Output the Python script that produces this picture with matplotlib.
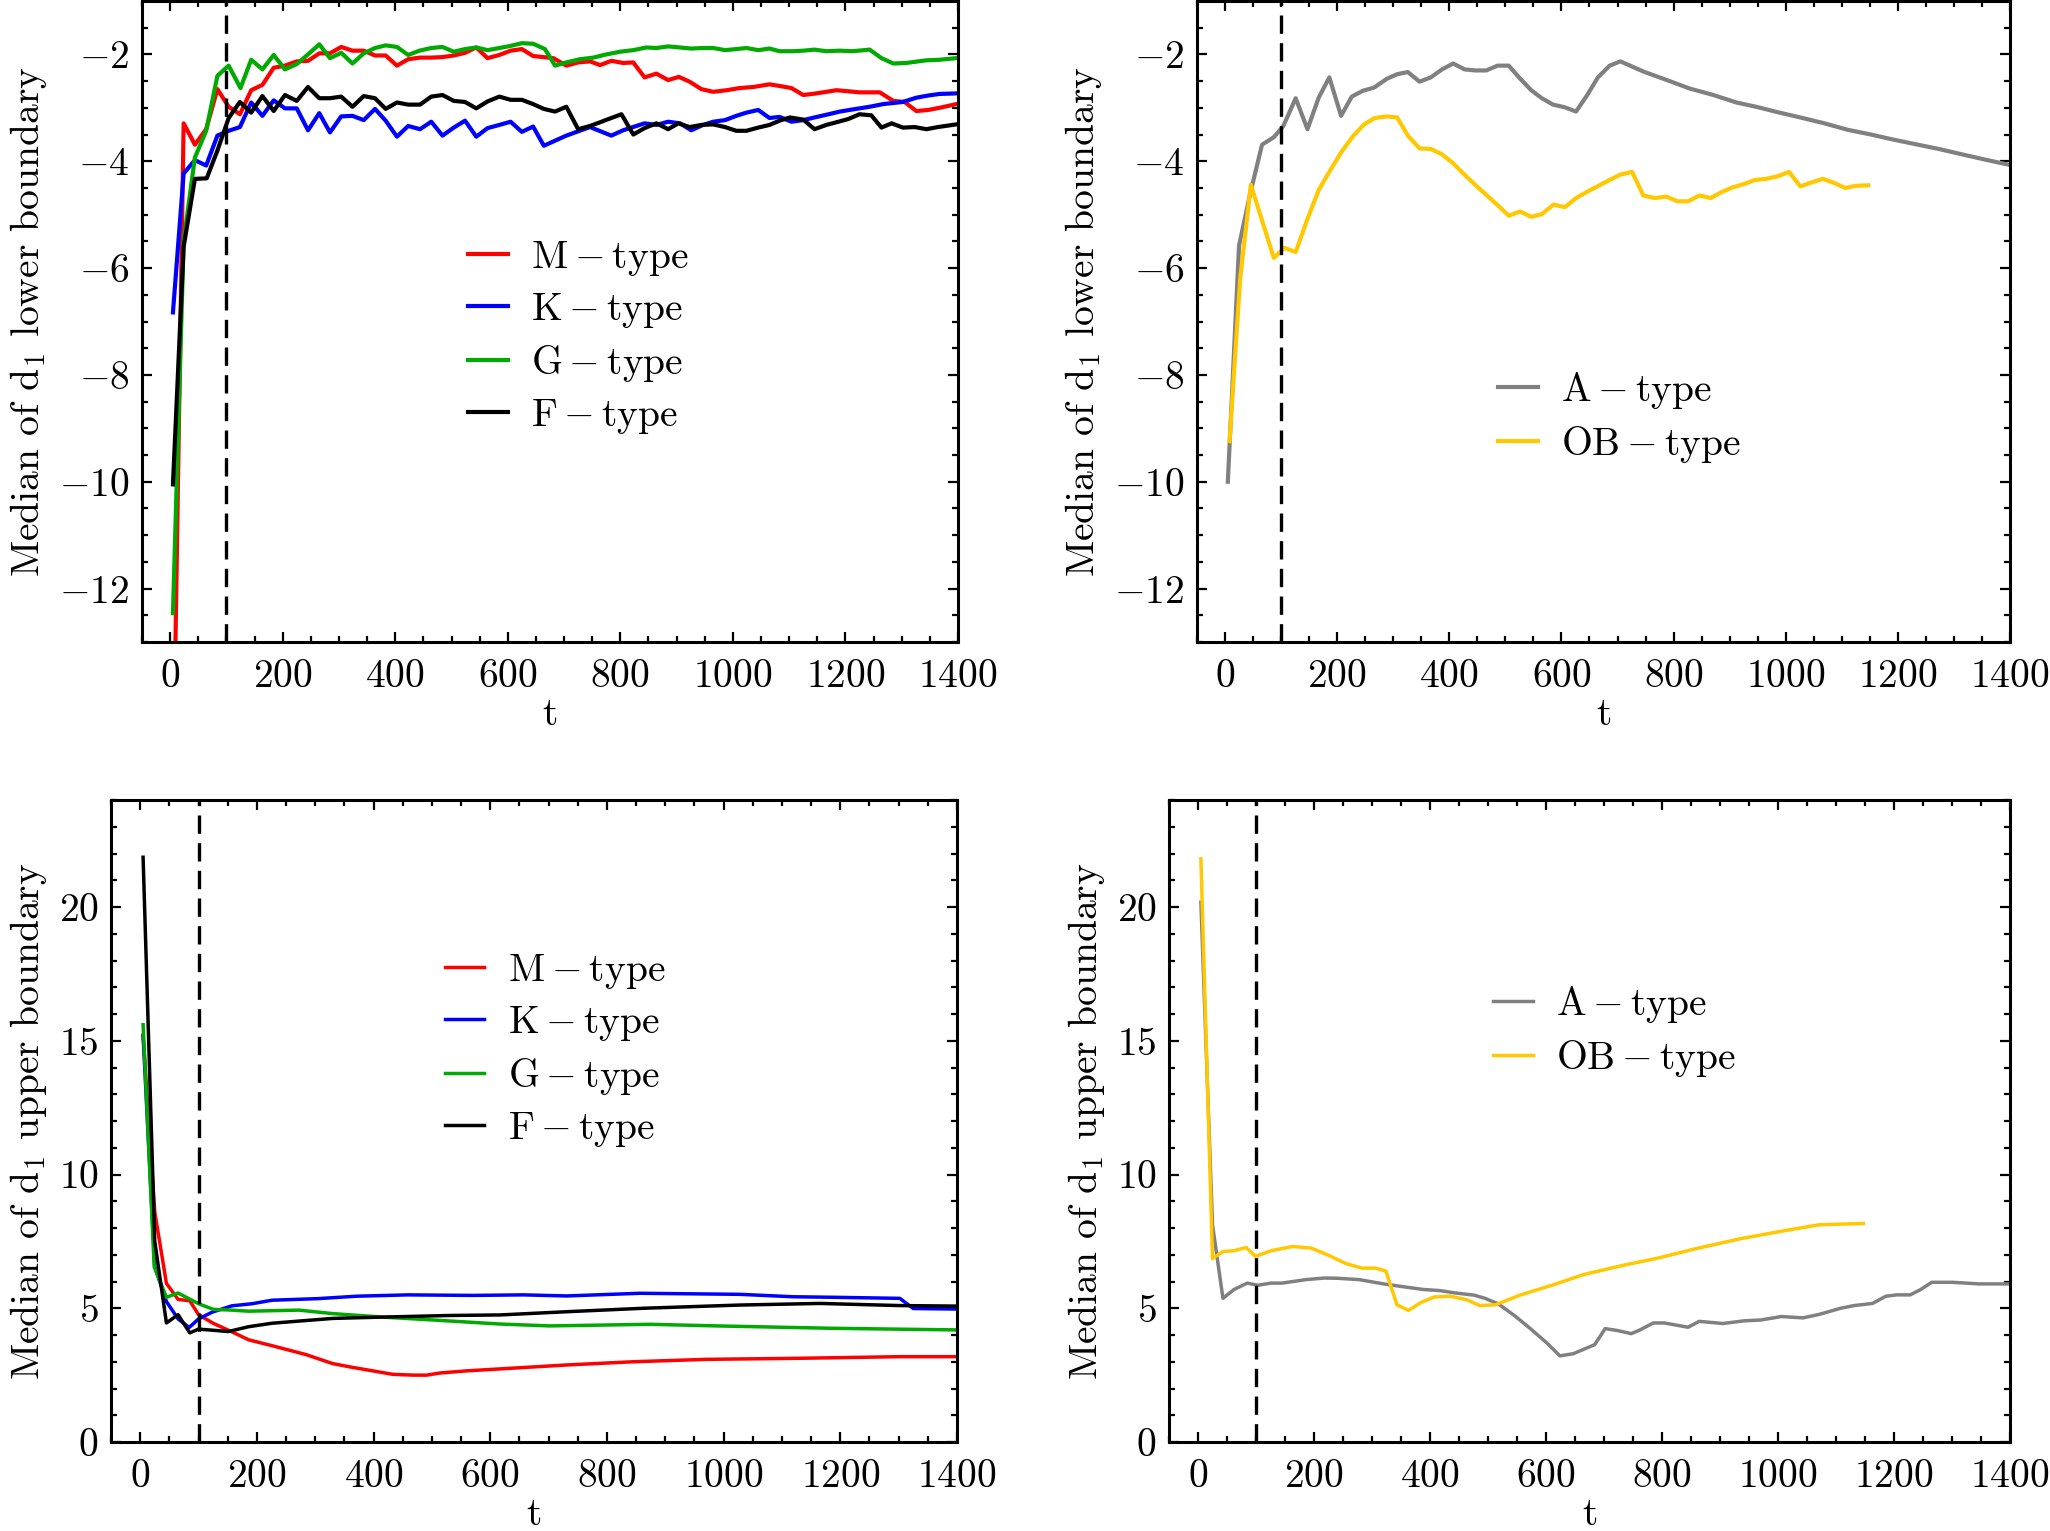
import matplotlib

matplotlib.use('Agg')

import matplotlib.pyplot as plt
from matplotlib.ticker import MultipleLocator

# ---- lower boundary, M/K/G/F ----
m_lo_t = [5, 24, 44, 64, 84, 104, 124, 144, 164, 184, 204, 225, 245, 265, 284, 304, 324, 344, 364, 383,
          403, 423, 444, 464, 484, 504, 524, 544, 564, 585, 605, 625, 645, 681, 704, 725, 746, 764, 784, 805,
          823, 843, 864, 885, 904, 923, 944, 965, 989, 1012, 1036, 1065, 1083, 1104, 1125, 1148, 1166, 1184,
          1205, 1225, 1261, 1285, 1305, 1326, 1347, 1367, 1397]
m_lo_v = [-16.0, -3.29, -3.69, -3.40, -2.65, -2.98, -3.12, -2.67, -2.57, -2.25, -2.21, -2.13, -2.12, -1.98,
          -1.98, -1.86, -1.93, -1.93, -2.02, -2.02, -2.21, -2.09, -2.06, -2.06, -2.05, -2.02, -1.97, -1.87,
          -2.07, -2.01, -1.93, -1.90, -2.03, -2.07, -2.21, -2.15, -2.13, -2.20, -2.12, -2.16, -2.15, -2.43,
          -2.36, -2.48, -2.42, -2.51, -2.65, -2.70, -2.67, -2.63, -2.61, -2.56, -2.59, -2.63, -2.76, -2.73,
          -2.70, -2.67, -2.69, -2.71, -2.71, -2.87, -2.89, -3.06, -3.04, -3.00, -2.93]

k_lo_t = [5, 24, 44, 64, 84, 104, 124, 144, 164, 184, 204, 225, 245, 265, 284, 304, 324, 344, 364, 383,
          403, 423, 444, 464, 484, 504, 524, 544, 564, 585, 605, 625, 645, 664, 704, 746, 784, 805, 843, 864,
          885, 906, 926, 947, 965, 986, 1006, 1024, 1045, 1065, 1083, 1104, 1125, 1145, 1166, 1190, 1213,
          1243, 1267, 1302, 1326, 1347, 1367, 1397]
k_lo_v = [-6.83, -4.23, -3.98, -4.08, -3.52, -3.43, -3.36, -2.90, -3.15, -2.86, -3.01, -3.01, -3.42, -3.10,
          -3.46, -3.16, -3.15, -3.23, -3.02, -3.24, -3.54, -3.34, -3.40, -3.26, -3.52, -3.37, -3.24, -3.54,
          -3.38, -3.32, -3.26, -3.45, -3.35, -3.71, -3.52, -3.36, -3.52, -3.42, -3.29, -3.32, -3.26, -3.29,
          -3.42, -3.32, -3.26, -3.23, -3.15, -3.09, -3.04, -3.19, -3.17, -3.26, -3.23, -3.18, -3.13, -3.07,
          -3.03, -2.98, -2.93, -2.89, -2.81, -2.77, -2.74, -2.73]

g_lo_t = [5, 24, 44, 64, 84, 104, 125, 144, 164, 184, 204, 225, 245, 265, 284, 304, 324, 344, 364, 383,
          403, 423, 443, 464, 484, 504, 524, 544, 564, 585, 605, 625, 645, 666, 684, 704, 728, 752, 775, 799,
          823, 846, 864, 885, 906, 926, 947, 965, 986, 1006, 1024, 1045, 1065, 1083, 1107, 1125, 1145, 1166,
          1190, 1213, 1243, 1264, 1285, 1308, 1344, 1367, 1397]
g_lo_v = [-12.46, -5.5, -3.93, -3.43, -2.40, -2.21, -2.63, -2.10, -2.28, -2.01, -2.28, -2.18, -2.00, -1.81,
          -2.07, -1.97, -2.17, -1.98, -1.88, -1.83, -1.86, -2.01, -1.93, -1.88, -1.86, -1.95, -1.90, -1.87,
          -1.92, -1.88, -1.84, -1.79, -1.80, -1.90, -2.21, -2.15, -2.09, -2.06, -2.00, -1.95, -1.92, -1.87,
          -1.88, -1.85, -1.87, -1.89, -1.88, -1.88, -1.92, -1.90, -1.88, -1.92, -1.89, -1.94, -1.94, -1.93,
          -1.91, -1.94, -1.93, -1.94, -1.91, -2.07, -2.17, -2.16, -2.11, -2.10, -2.07]

f_lo_t = [5, 24, 44, 65, 84, 104, 124, 144, 164, 184, 204, 225, 245, 265, 284, 304, 324, 344, 364, 383,
          403, 423, 444, 464, 484, 504, 524, 544, 564, 585, 605, 625, 645, 664, 684, 704, 725, 746, 764, 784,
          802, 823, 843, 864, 885, 903, 923, 944, 965, 986, 1006, 1024, 1045, 1065, 1083, 1101, 1125, 1145,
          1166, 1184, 1205, 1225, 1246, 1264, 1282, 1302, 1323, 1344, 1364, 1397]
f_lo_v = [-10.05, -5.6, -4.33, -4.32, -3.80, -3.19, -2.89, -3.09, -2.78, -3.06, -2.76, -2.87, -2.61, -2.82,
          -2.82, -2.79, -2.98, -2.78, -2.82, -3.02, -2.90, -2.94, -2.94, -2.79, -2.76, -2.87, -2.89, -3.01,
          -2.88, -2.79, -2.85, -2.85, -2.93, -3.02, -3.07, -2.98, -3.40, -3.34, -3.27, -3.19, -3.12, -3.50,
          -3.38, -3.29, -3.40, -3.29, -3.36, -3.32, -3.31, -3.36, -3.43, -3.43, -3.37, -3.32, -3.24, -3.18,
          -3.22, -3.40, -3.32, -3.27, -3.21, -3.12, -3.14, -3.37, -3.29, -3.37, -3.36, -3.40, -3.36, -3.31]

# ---- lower boundary, A/OB ----
a_lo_t = [5, 25, 45, 66, 87, 104, 126, 147, 167, 186, 207, 226, 246, 266, 288, 307, 326, 347, 367, 387,
          407, 427, 446, 466, 486, 506, 526, 546, 565, 585, 606, 626, 646, 665, 686, 705, 746, 788, 829, 871,
          912, 947, 989, 1030, 1069, 1110, 1152, 1190, 1231, 1273, 1314, 1356, 1400]
a_lo_v = [-10.0, -5.58, -4.6, -3.69, -3.55, -3.34, -2.82, -3.40, -2.81, -2.43, -3.15, -2.79, -2.68, -2.62,
          -2.46, -2.37, -2.33, -2.51, -2.43, -2.28, -2.17, -2.28, -2.30, -2.30, -2.21, -2.21, -2.45, -2.67,
          -2.82, -2.94, -2.99, -3.07, -2.76, -2.43, -2.21, -2.13, -2.32, -2.48, -2.64, -2.76, -2.90, -2.98,
          -3.09, -3.19, -3.29, -3.41, -3.50, -3.59, -3.68, -3.77, -3.87, -3.97, -4.07]

ob_lo_t = [8, 27, 46, 87, 106, 126, 146, 167, 187, 208, 229, 248, 267, 288, 307, 326, 347, 367, 387, 407,
           427, 447, 467, 487, 506, 526, 546, 565, 586, 606, 626, 646, 684, 705, 726, 746, 767, 787, 807, 826,
           846, 866, 885, 905, 925, 945, 965, 986, 1006, 1026, 1045, 1066, 1085, 1106, 1125, 1147]
ob_lo_v = [-9.24, -6.2, -4.44, -5.81, -5.62, -5.70, -5.11, -4.54, -4.18, -3.82, -3.52, -3.31, -3.19, -3.16,
           -3.18, -3.52, -3.76, -3.77, -3.87, -4.04, -4.25, -4.45, -4.64, -4.83, -5.02, -4.94, -5.04, -4.99,
           -4.81, -4.86, -4.69, -4.57, -4.36, -4.25, -4.20, -4.64, -4.69, -4.66, -4.75, -4.75, -4.64, -4.69,
           -4.58, -4.49, -4.43, -4.35, -4.33, -4.28, -4.20, -4.47, -4.40, -4.33, -4.40, -4.50, -4.46, -4.45]

# ---- upper boundary, M/K/G/F ----
m_up_t = [5, 25, 45, 65, 85, 100, 125, 157, 186, 226, 284, 330, 364, 433, 468, 491, 514, 560, 646, 731,
          845, 971, 1131, 1302, 1400]
m_up_v = [15.2, 8.6, 5.93, 5.33, 5.28, 4.76, 4.44, 4.12, 3.82, 3.60, 3.27, 2.93, 2.79, 2.53, 2.50, 2.50,
          2.58, 2.66, 2.77, 2.88, 3.00, 3.09, 3.13, 3.19, 3.19]

k_up_t = [5, 25, 45, 65, 84, 100, 123, 157, 192, 226, 305, 371, 459, 569, 657, 731, 857, 1028, 1119, 1188,
          1302, 1325, 1400]
k_up_v = [15.2, 6.55, 5.25, 4.6, 4.28, 4.6, 4.85, 5.09, 5.17, 5.30, 5.36, 5.45, 5.50, 5.48, 5.50, 5.46,
          5.56, 5.52, 5.43, 5.41, 5.37, 4.99, 4.97]

g_up_t = [5, 24, 45, 65, 100, 125, 157, 186, 272, 330, 415, 503, 617, 702, 874, 988, 1188, 1400]
g_up_v = [15.6, 6.55, 5.41, 5.57, 5.17, 4.96, 4.93, 4.89, 4.93, 4.80, 4.67, 4.56, 4.41, 4.34, 4.40, 4.34,
          4.25, 4.19]

f_up_t = [5, 25, 45, 65, 85, 100, 123, 151, 186, 226, 272, 330, 416, 474, 531, 617, 731, 863, 1028, 1165,
          1302, 1400]
f_up_v = [21.86, 7.5, 4.45, 4.76, 4.08, 4.22, 4.18, 4.13, 4.31, 4.44, 4.52, 4.62, 4.67, 4.70, 4.73, 4.75,
          4.87, 5.00, 5.12, 5.18, 5.10, 5.08]

# ---- upper boundary, A/OB ----
a_up_t = [5, 25, 43, 62, 85, 103, 126, 145, 186, 218, 241, 278, 320, 352, 389, 417, 444, 476, 495, 518,
          546, 573, 601, 624, 647, 684, 702, 725, 747, 762, 785, 804, 845, 864, 905, 942, 970, 1006, 1043,
          1071, 1108, 1131, 1163, 1186, 1205, 1228, 1246, 1265, 1301, 1347, 1400]
a_up_v = [20.18, 8.12, 5.37, 5.70, 5.94, 5.86, 5.94, 5.94, 6.07, 6.13, 6.12, 6.07, 5.91, 5.81, 5.70, 5.66,
          5.57, 5.49, 5.37, 5.16, 4.72, 4.24, 3.71, 3.22, 3.30, 3.64, 4.24, 4.16, 4.05, 4.19, 4.45, 4.45,
          4.29, 4.51, 4.43, 4.53, 4.56, 4.69, 4.64, 4.77, 5.0, 5.10, 5.18, 5.45, 5.50, 5.50, 5.70, 5.97,
          5.97, 5.91, 5.91]

ob_up_t = [5, 25, 43, 62, 83, 99, 126, 163, 195, 223, 255, 283, 306, 324, 343, 363, 384, 407, 435, 463,
           486, 513, 555, 610, 665, 730, 794, 859, 933, 1006, 1071, 1147]
ob_up_v = [21.8, 6.86, 7.12, 7.15, 7.27, 6.94, 7.15, 7.31, 7.25, 7.0, 6.67, 6.50, 6.50, 6.39, 5.13, 4.92,
           5.21, 5.42, 5.45, 5.32, 5.10, 5.13, 5.49, 5.86, 6.26, 6.59, 6.88, 7.23, 7.59, 7.88, 8.12, 8.17]

labels = [r'$\mathrm{M-type}$', r'$\mathrm{K-type}$', r'$\mathrm{G-type}$', r'$\mathrm{F-type}$',
          r'$\mathrm{A-type}$', r'$\mathrm{OB-type}$']
colors = ['#ff0000', '#0000ff', '#00aa00', '#000000', '#808080', '#ffc800']
t_cut = 100

plt.rcParams['font.family'] = 'serif'
plt.rcParams['font.serif'] = ['cmr10']
plt.rcParams['mathtext.fontset'] = 'cm'
plt.rcParams['axes.formatter.use_mathtext'] = True
plt.rcParams['font.size'] = 28.5

W, H = 2050, 1531
fig = plt.figure(figsize=(W / 100, H / 100), dpi=100)


def box(x0, y0, x1, y1):
    return [x0 / W, 1 - y1 / H, (x1 - x0) / W, (y1 - y0) / H]


ax1 = fig.add_axes(box(142, 1, 958, 642))
ax2 = fig.add_axes(box(1197, 1, 2010, 642))
ax3 = fig.add_axes(box(111, 800, 957, 1442))
ax4 = fig.add_axes(box(1169, 800, 2010, 1442))


def style(ax, lower):
    ax.set_xlim(-50, 1400)
    ax.xaxis.set_major_locator(MultipleLocator(200))
    ax.xaxis.set_minor_locator(MultipleLocator(50))
    if lower:
        ax.set_ylim(-13, -1)
        ax.yaxis.set_major_locator(MultipleLocator(2))
        ax.yaxis.set_minor_locator(MultipleLocator(0.5))
        ax.set_ylabel(r'Median of $\mathrm{d_1}$ lower boundary', labelpad=7)
    else:
        ax.set_ylim(0, 24)
        ax.yaxis.set_major_locator(MultipleLocator(5))
        ax.yaxis.set_minor_locator(MultipleLocator(1))
        ax.set_ylabel(r'Median of $\mathrm{d_1}$ upper boundary', labelpad=7)
    ax.set_xlabel('t', labelpad=2)
    ax.tick_params(which='both', direction='in', top=True, right=True, width=1.6)
    ax.tick_params(which='major', length=7)
    ax.tick_params(which='minor', length=4.5)
    ax.tick_params(axis='x', which='major', pad=12)
    ax.tick_params(axis='y', which='major', pad=9)
    for s in ax.spines.values():
        s.set_linewidth(2.2)
    ax.axvline(t_cut, color='k', lw=2.4, ls=(0, (5.5, 2.8)))


lw_top, lw_bot = 3.0, 2.5
leg_kw = dict(loc='center', frameon=False, handlelength=1.0, handletextpad=0.6, labelspacing=0.33)

ax1.plot(m_lo_t, m_lo_v, color=colors[0], lw=lw_top, label=labels[0])
ax1.plot(k_lo_t, k_lo_v, color=colors[1], lw=lw_top, label=labels[1])
ax1.plot(g_lo_t, g_lo_v, color=colors[2], lw=lw_top, label=labels[2])
ax1.plot(f_lo_t, f_lo_v, color=colors[3], lw=lw_top, label=labels[3])
style(ax1, True)
ax1.legend(bbox_to_anchor=(0.535, 0.475), **leg_kw)

ax2.plot(a_lo_t, a_lo_v, color=colors[4], lw=lw_top, label=labels[4])
ax2.plot(ob_lo_t, ob_lo_v, color=colors[5], lw=lw_top, label=labels[5])
style(ax2, True)
ax2.legend(bbox_to_anchor=(0.52, 0.35), **leg_kw)

ax3.plot(m_up_t, m_up_v, color=colors[0], lw=lw_bot, label=labels[0])
ax3.plot(k_up_t, k_up_v, color=colors[1], lw=lw_bot, label=labels[1])
ax3.plot(g_up_t, g_up_v, color=colors[2], lw=lw_bot, label=labels[2])
ax3.plot(f_up_t, f_up_v, color=colors[3], lw=lw_bot, label=labels[3])
style(ax3, False)
ax3.legend(bbox_to_anchor=(0.525, 0.61), **leg_kw)

ax4.plot(a_up_t, a_up_v, color=colors[4], lw=lw_bot, label=labels[4])
ax4.plot(ob_up_t, ob_up_v, color=colors[5], lw=lw_bot, label=labels[5])
style(ax4, False)
ax4.legend(bbox_to_anchor=(0.53, 0.64), **leg_kw)

fig.savefig('out.png', dpi=100)
